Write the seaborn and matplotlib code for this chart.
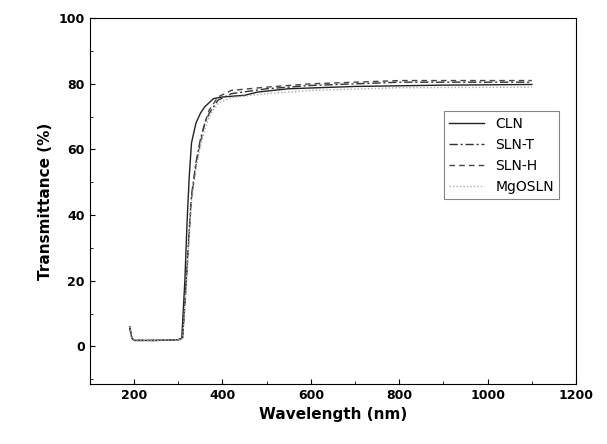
import matplotlib
matplotlib.use("Agg")
import matplotlib.pyplot as plt
import seaborn as sns
import pandas as pd
from matplotlib.ticker import MultipleLocator

wl_cln = [190, 195, 200, 250, 300, 308, 315, 320, 325, 330, 340, 350, 360, 380, 400, 450, 480, 550, 700, 900, 1100]
t_cln = [6, 2.5, 1.8, 1.8, 2.0, 2.5, 20, 38, 52, 62, 68, 71, 73, 75.5, 76, 76.5, 77.5, 78.5, 79.2, 79.6, 79.8]
wl_s = [190, 195, 200, 250, 300, 310, 318, 325, 330, 340, 350, 360, 370, 390, 420, 500, 600, 800, 1100]
t_slnt = [6, 2.5, 1.8, 1.8, 2.0, 2.5, 20, 36, 46, 56, 63, 68, 71, 75, 77, 78.5, 79.5, 80.5, 80.5]
t_slnh = [6, 2.5, 1.8, 1.8, 2.0, 2.5, 19, 35, 45, 55, 62, 68, 72, 76, 78, 79, 80, 81, 81]
t_mgo = [6, 2.5, 1.8, 1.8, 2.0, 2.5, 18, 34, 44, 54, 61, 66, 70, 74, 75.8, 77, 78, 78.8, 79]

frames = [pd.DataFrame({"wl": wl_cln, "T": t_cln, "s": "CLN"})]
for name, t in [("SLN-T", t_slnt), ("SLN-H", t_slnh), ("MgOSLN", t_mgo)]:
    frames.append(pd.DataFrame({"wl": wl_s, "T": t, "s": name}))
df = pd.concat(frames)

styles = {"CLN": ("-", "#222222", 1.0), "SLN-T": ((0, (6, 2, 1.5, 2)), "#333333", 1.0),
          "SLN-H": ((0, (4, 3)), "#444444", 1.0), "MgOSLN": ((0, (1, 1.5)), "#aaaaaa", 1.0)}

fig = plt.figure(figsize=(6.07, 4.44), dpi=100)
ax = fig.add_axes([0.148, 0.135, 0.801, 0.824])
for name in ["CLN", "SLN-T", "SLN-H", "MgOSLN"]:
    ls, c, lw = styles[name]
    sns.lineplot(data=df[df.s == name], x="wl", y="T", ax=ax, color=c, lw=lw, linestyle=ls, label=name, sort=False)
ax.set_xlim(100, 1200)
ax.set_ylim(-11.5, 100)
ax.set_xticks([200, 400, 600, 800, 1000, 1200])
ax.set_yticks([0, 20, 40, 60, 80, 100])
ax.xaxis.set_minor_locator(MultipleLocator(100))
ax.yaxis.set_minor_locator(MultipleLocator(10))
ax.tick_params(which="both", direction="in", top=False, right=False, labelsize=9)
for lab in ax.get_xticklabels() + ax.get_yticklabels():
    lab.set_fontweight("bold")
ax.set_xlabel("Wavelength (nm)", fontsize=11, fontweight="bold")
ax.set_ylabel("Transmittance (%)", fontsize=11, fontweight="bold")
leg = ax.legend(loc="upper right", bbox_to_anchor=(0.98, 0.765), fancybox=False, edgecolor="#666666",
                fontsize=10, handlelength=2.5, labelspacing=0.5)
leg.get_frame().set_linewidth(0.8)
fig.savefig("out.png", dpi=100)
